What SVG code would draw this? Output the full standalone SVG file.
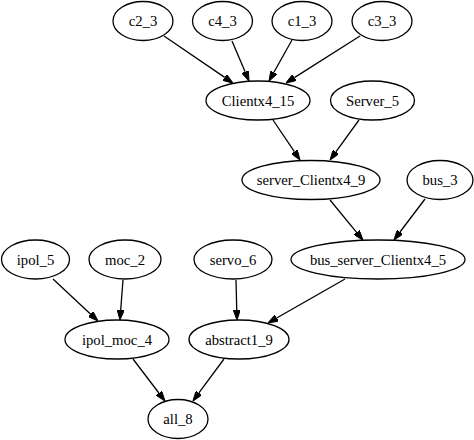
<svg xmlns="http://www.w3.org/2000/svg" width="474" height="440" viewBox="0 0 474 440">
<style>
ellipse{fill:#fff;stroke:#000;stroke-width:1.3}
text{font-family:'Liberation Serif','Times New Roman','DejaVu Serif',serif;font-size:14.7px;text-anchor:middle;fill:#000}
.e line{stroke:#000;stroke-width:1.3;marker-end:url(#ah)}
</style>
<defs>
<marker id="ah" viewBox="0 0 10 7" refX="0" refY="3.5" markerWidth="10" markerHeight="7" markerUnits="userSpaceOnUse" orient="auto">
<path d="M0,0 L10,3.5 L0,7 z" fill="#000" stroke="#000" stroke-width="1"/>
</marker>
</defs>
<rect width="474" height="440" fill="#fff"/>
<g class="e" id="edges">
<line x1="164" y1="36" x2="224.7" y2="77.4"/>
<line x1="232" y1="41" x2="245.1" y2="71.8"/>
<line x1="292" y1="40" x2="273.9" y2="72.3"/>
<line x1="360" y1="36" x2="294.4" y2="77.6"/>
<line x1="273" y1="120" x2="294.4" y2="151.7"/>
<line x1="359" y1="120" x2="335.9" y2="151.9"/>
<line x1="330" y1="200" x2="356.6" y2="232.3"/>
<line x1="425" y1="199" x2="400" y2="232"/>
<line x1="53" y1="279" x2="90.7" y2="314.2"/>
<line x1="123" y1="280" x2="120.7" y2="310"/>
<line x1="236" y1="280" x2="236.75" y2="310"/>
<line x1="345" y1="279" x2="276.7" y2="318"/>
<line x1="133" y1="359" x2="158.9" y2="393"/>
<line x1="224" y1="359" x2="198.9" y2="392.9"/>
</g>
<g id="c2_3"><ellipse cx="143" cy="21" rx="30" ry="19.5"/><text x="143" y="26" font-family="Liberation Serif, serif">c2_3</text></g>
<g id="c4_3"><ellipse cx="222.5" cy="21" rx="30" ry="19.5"/><text x="222.5" y="26" font-family="Liberation Serif, serif">c4_3</text></g>
<g id="c1_3"><ellipse cx="302" cy="21" rx="30" ry="19.5"/><text x="302" y="26" font-family="Liberation Serif, serif">c1_3</text></g>
<g id="c3_3"><ellipse cx="382" cy="21" rx="30" ry="19.5"/><text x="382" y="26" font-family="Liberation Serif, serif">c3_3</text></g>
<g id="Clientx4_15"><ellipse cx="258" cy="100.5" rx="52" ry="19.5"/><text x="258" y="105.5" font-family="Liberation Serif, serif">Clientx4_15</text></g>
<g id="Server_5"><ellipse cx="372.5" cy="100.5" rx="42" ry="19.5"/><text x="372.5" y="105.5" font-family="Liberation Serif, serif">Server_5</text></g>
<g id="server_Clientx4_9"><ellipse cx="311" cy="180" rx="69" ry="19.5"/><text x="311" y="185" font-family="Liberation Serif, serif">server_Clientx4_9</text></g>
<g id="bus_3"><ellipse cx="440" cy="180" rx="33" ry="19.5"/><text x="440" y="185" font-family="Liberation Serif, serif">bus_3</text></g>
<g id="ipol_5"><ellipse cx="35.5" cy="259.5" rx="34" ry="19.5"/><text x="35.5" y="264.5" font-family="Liberation Serif, serif">ipol_5</text></g>
<g id="moc_2"><ellipse cx="125" cy="259.5" rx="36" ry="19.5"/><text x="125" y="264.5" font-family="Liberation Serif, serif">moc_2</text></g>
<g id="servo_6"><ellipse cx="233" cy="259.5" rx="39" ry="19.5"/><text x="233" y="264.5" font-family="Liberation Serif, serif">servo_6</text></g>
<g id="bus_server_Clientx4_5"><ellipse cx="378" cy="259.5" rx="87" ry="19.5"/><text x="378" y="264.5" font-family="Liberation Serif, serif">bus_server_Clientx4_5</text></g>
<g id="ipol_moc_4"><ellipse cx="117" cy="339.5" rx="52" ry="19.5"/><text x="117" y="344.5" font-family="Liberation Serif, serif">ipol_moc_4</text></g>
<g id="abstract1_9"><ellipse cx="239" cy="339.5" rx="50" ry="19.5"/><text x="239" y="344.5" font-family="Liberation Serif, serif">abstract1_9</text></g>
<g id="all_8"><ellipse cx="178" cy="419" rx="30" ry="19.5"/><text x="178" y="424" font-family="Liberation Serif, serif">all_8</text></g>
</svg>
